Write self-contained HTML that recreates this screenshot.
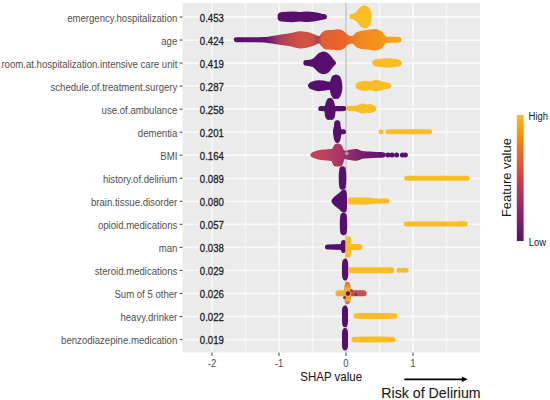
<!DOCTYPE html>
<html><head><meta charset="utf-8"><style>
html,body{margin:0;padding:0;background:#fff;}
svg{display:block;font-family:"Liberation Sans",sans-serif;}
text{stroke-width:0.25px;paint-order:stroke;}
</style></head><body>
<svg width="550" height="400" viewBox="0 0 550 400">
<defs>
<linearGradient id="gage" gradientUnits="userSpaceOnUse" x1="233" y1="0" x2="402" y2="0">
<stop offset="0.000" stop-color="#570f6d"/><stop offset="0.195" stop-color="#5e1470"/><stop offset="0.231" stop-color="#7e2668"/><stop offset="0.278" stop-color="#a83e5a"/><stop offset="0.349" stop-color="#c44c48"/><stop offset="0.426" stop-color="#d05440"/><stop offset="0.473" stop-color="#c85244"/><stop offset="0.503" stop-color="#a83e58"/><stop offset="0.527" stop-color="#e0602e"/><stop offset="0.663" stop-color="#e9652a"/><stop offset="0.704" stop-color="#ef7a22"/><stop offset="0.763" stop-color="#f38a1e"/><stop offset="0.870" stop-color="#f6921c"/><stop offset="0.917" stop-color="#f9a219"/><stop offset="1.000" stop-color="#faa818"/>
</linearGradient>
<linearGradient id="gbmi" gradientUnits="userSpaceOnUse" x1="310" y1="0" x2="405" y2="0">
<stop offset="0.000" stop-color="#c24258"/><stop offset="0.158" stop-color="#c0405a"/><stop offset="0.263" stop-color="#b03862"/><stop offset="0.368" stop-color="#a02e66"/><stop offset="0.474" stop-color="#862570"/><stop offset="0.611" stop-color="#6e1a72"/><stop offset="0.789" stop-color="#5e1470"/><stop offset="1.000" stop-color="#570f6d"/>
</linearGradient>
<linearGradient id="gsum" gradientUnits="userSpaceOnUse" x1="335" y1="0" x2="367" y2="0">
<stop offset="0" stop-color="#f8b828"/><stop offset="0.3" stop-color="#f2a82c"/><stop offset="0.5" stop-color="#c85048"/><stop offset="0.7" stop-color="#c8504a"/><stop offset="1" stop-color="#d6504a"/>
</linearGradient>
<linearGradient id="gsumv" gradientUnits="userSpaceOnUse" x1="0" y1="281" x2="0" y2="305">
<stop offset="0" stop-color="#d05040"/><stop offset="0.18" stop-color="#e8902e"/><stop offset="0.35" stop-color="#f2ae2c"/><stop offset="0.8" stop-color="#f0aa2e"/><stop offset="1" stop-color="#a04a50"/>
</linearGradient>
<linearGradient id="gcb" x1="0" y1="1" x2="0" y2="0">
<stop offset="0" stop-color="#570f6d"/><stop offset="0.1667" stop-color="#7e1e6c"/><stop offset="0.3333" stop-color="#a72d5f"/><stop offset="0.5" stop-color="#cc4148"/><stop offset="0.6667" stop-color="#e9622a"/><stop offset="0.8333" stop-color="#f98e08"/><stop offset="1" stop-color="#fabd23"/>
</linearGradient>
</defs>
<rect x="0" y="0" width="550" height="400" fill="#fff"/>
<rect x="182.5" y="3" width="297.5" height="349.5" fill="#ebebeb"/>
<line x1="245.50" x2="245.50" y1="3" y2="352.5" stroke="#f6f6f6" stroke-width="1.5"/>
<line x1="312.50" x2="312.50" y1="3" y2="352.5" stroke="#f6f6f6" stroke-width="1.5"/>
<line x1="379.50" x2="379.50" y1="3" y2="352.5" stroke="#f6f6f6" stroke-width="1.5"/>
<line x1="446.50" x2="446.50" y1="3" y2="352.5" stroke="#f6f6f6" stroke-width="1.5"/>
<line x1="212.00" x2="212.00" y1="3" y2="352.5" stroke="#f8f8f8" stroke-width="1.8"/>
<line x1="279.00" x2="279.00" y1="3" y2="352.5" stroke="#f8f8f8" stroke-width="1.8"/>
<line x1="346.00" x2="346.00" y1="3" y2="352.5" stroke="#f8f8f8" stroke-width="1.8"/>
<line x1="413.00" x2="413.00" y1="3" y2="352.5" stroke="#f8f8f8" stroke-width="1.8"/>
<line x1="182.5" x2="480" y1="17.00" y2="17.00" stroke="#f8f8f8" stroke-width="1.8"/>
<line x1="182.5" x2="480" y1="40.04" y2="40.04" stroke="#f8f8f8" stroke-width="1.8"/>
<line x1="182.5" x2="480" y1="63.08" y2="63.08" stroke="#f8f8f8" stroke-width="1.8"/>
<line x1="182.5" x2="480" y1="86.12" y2="86.12" stroke="#f8f8f8" stroke-width="1.8"/>
<line x1="182.5" x2="480" y1="109.16" y2="109.16" stroke="#f8f8f8" stroke-width="1.8"/>
<line x1="182.5" x2="480" y1="132.20" y2="132.20" stroke="#f8f8f8" stroke-width="1.8"/>
<line x1="182.5" x2="480" y1="155.24" y2="155.24" stroke="#f8f8f8" stroke-width="1.8"/>
<line x1="182.5" x2="480" y1="178.28" y2="178.28" stroke="#f8f8f8" stroke-width="1.8"/>
<line x1="182.5" x2="480" y1="201.32" y2="201.32" stroke="#f8f8f8" stroke-width="1.8"/>
<line x1="182.5" x2="480" y1="224.36" y2="224.36" stroke="#f8f8f8" stroke-width="1.8"/>
<line x1="182.5" x2="480" y1="247.40" y2="247.40" stroke="#f8f8f8" stroke-width="1.8"/>
<line x1="182.5" x2="480" y1="270.44" y2="270.44" stroke="#f8f8f8" stroke-width="1.8"/>
<line x1="182.5" x2="480" y1="293.48" y2="293.48" stroke="#f8f8f8" stroke-width="1.8"/>
<line x1="182.5" x2="480" y1="316.52" y2="316.52" stroke="#f8f8f8" stroke-width="1.8"/>
<line x1="182.5" x2="480" y1="339.56" y2="339.56" stroke="#f8f8f8" stroke-width="1.8"/>
<line x1="346.00" x2="346.00" y1="3" y2="352.5" stroke="#c4c4c4" stroke-width="1.5"/>
<path d="M280.10,15.30 C280.42,15.17 279.90,14.73 282.00,14.50 C284.10,14.27 289.70,13.90 292.70,13.90 C295.70,13.90 297.62,14.47 300.00,14.50 C302.38,14.53 304.33,14.00 307.00,14.10 C309.67,14.20 313.67,14.77 316.00,15.10 C318.33,15.43 319.58,15.83 321.00,16.10 C322.42,16.37 323.92,16.60 324.50,16.70 L324.50,16.90 C323.92,17.00 322.42,17.23 321.00,17.50 C319.58,17.77 318.33,18.17 316.00,18.50 C313.67,18.83 309.67,19.40 307.00,19.50 C304.33,19.60 302.38,19.07 300.00,19.10 C297.62,19.13 295.70,19.70 292.70,19.70 C289.70,19.70 284.10,19.33 282.00,19.10 C279.90,18.87 280.42,18.43 280.10,18.30Z" fill="#570f6d" stroke="#570f6d" stroke-width="5" stroke-linejoin="round"/>
<path d="M353.00,14.20 C353.58,12.97 355.42,12.63 356.50,11.60 C357.58,10.57 358.33,9.00 359.50,8.00 C360.67,7.00 362.17,5.87 363.50,5.60 C364.83,5.33 366.37,5.70 367.50,6.40 C368.63,7.10 369.62,8.37 370.30,9.80 C370.98,11.23 371.43,13.13 371.60,15.00 C371.77,16.87 371.70,19.17 371.30,21.00 C370.90,22.83 370.25,24.73 369.20,26.00 C368.15,27.27 366.45,28.50 365.00,28.60 C363.55,28.70 361.83,27.70 360.50,26.60 C359.17,25.50 358.25,23.27 357.00,22.00 C355.75,20.73 353.67,20.30 353.00,19.00 C352.33,17.70 352.42,15.43 353.00,14.20Z" fill="#fabd23"/>
<circle cx="352.20" cy="16.60" r="2.6" fill="#fabd23"/>
<path d="M236.20,39.80 C238.50,39.80 245.37,39.83 250.00,39.80 C254.63,39.77 260.67,39.75 264.00,39.60 C267.33,39.45 267.33,39.28 270.00,38.90 C272.67,38.52 276.67,37.83 280.00,37.30 C283.33,36.77 286.67,36.30 290.00,35.70 C293.33,35.10 297.33,33.93 300.00,33.70 C302.67,33.47 304.00,33.92 306.00,34.30 C308.00,34.68 310.00,35.30 312.00,36.00 C314.00,36.70 316.50,38.20 318.00,38.50 C319.50,38.80 320.08,38.42 321.00,37.80 C321.92,37.18 322.67,35.63 323.50,34.80 C324.33,33.97 324.92,33.18 326.00,32.80 C327.08,32.42 328.67,32.58 330.00,32.50 C331.33,32.42 332.67,32.42 334.00,32.30 C335.33,32.18 336.67,31.72 338.00,31.80 C339.33,31.88 340.83,32.13 342.00,32.80 C343.17,33.47 344.00,34.97 345.00,35.80 C346.00,36.63 346.83,37.35 348.00,37.80 C349.17,38.25 350.83,38.58 352.00,38.50 C353.17,38.42 354.00,38.00 355.00,37.30 C356.00,36.60 356.83,35.00 358.00,34.30 C359.17,33.60 360.33,33.40 362.00,33.10 C363.67,32.80 365.83,32.77 368.00,32.50 C370.17,32.23 373.00,31.37 375.00,31.50 C377.00,31.63 378.67,32.42 380.00,33.30 C381.33,34.18 382.00,35.83 383.00,36.80 C384.00,37.77 384.00,38.68 386.00,39.10 C388.00,39.52 392.83,39.22 395.00,39.30 C397.17,39.38 398.33,39.55 399.00,39.60 L399.00,40.00 C398.33,40.05 397.17,40.22 395.00,40.30 C392.83,40.38 388.00,40.08 386.00,40.50 C384.00,40.92 384.00,41.83 383.00,42.80 C382.00,43.77 381.33,45.42 380.00,46.30 C378.67,47.18 377.00,47.97 375.00,48.10 C373.00,48.23 370.17,47.37 368.00,47.10 C365.83,46.83 363.67,46.80 362.00,46.50 C360.33,46.20 359.17,46.00 358.00,45.30 C356.83,44.60 356.00,43.00 355.00,42.30 C354.00,41.60 353.17,41.18 352.00,41.10 C350.83,41.02 349.17,41.35 348.00,41.80 C346.83,42.25 346.00,42.97 345.00,43.80 C344.00,44.63 343.17,46.13 342.00,46.80 C340.83,47.47 339.33,47.72 338.00,47.80 C336.67,47.88 335.33,47.42 334.00,47.30 C332.67,47.18 331.33,47.18 330.00,47.10 C328.67,47.02 327.08,47.18 326.00,46.80 C324.92,46.42 324.33,45.63 323.50,44.80 C322.67,43.97 321.92,42.42 321.00,41.80 C320.08,41.18 319.50,40.80 318.00,41.10 C316.50,41.40 314.00,42.90 312.00,43.60 C310.00,44.30 308.00,44.92 306.00,45.30 C304.00,45.68 302.67,46.13 300.00,45.90 C297.33,45.67 293.33,44.50 290.00,43.90 C286.67,43.30 283.33,42.83 280.00,42.30 C276.67,41.77 272.67,41.08 270.00,40.70 C267.33,40.32 267.33,40.15 264.00,40.00 C260.67,39.85 254.63,39.83 250.00,39.80 C245.37,39.77 238.50,39.80 236.20,39.80Z" fill="url(#gage)" stroke="url(#gage)" stroke-width="5" stroke-linejoin="round"/>
<path d="M305.80,62.60 C306.50,62.52 308.63,62.38 310.00,62.10 C311.37,61.82 312.83,61.52 314.00,60.90 C315.17,60.28 316.00,59.32 317.00,58.40 C318.00,57.48 318.92,56.12 320.00,55.40 C321.08,54.68 322.33,54.10 323.50,54.10 C324.67,54.10 325.92,54.60 327.00,55.40 C328.08,56.20 329.17,57.90 330.00,58.90 C330.83,59.90 331.42,60.73 332.00,61.40 C332.58,62.07 333.25,62.65 333.50,62.90 L333.50,62.90 C333.25,63.15 332.58,63.73 332.00,64.40 C331.42,65.07 330.83,65.90 330.00,66.90 C329.17,67.90 328.08,69.60 327.00,70.40 C325.92,71.20 324.67,71.70 323.50,71.70 C322.33,71.70 321.08,71.12 320.00,70.40 C318.92,69.68 318.00,68.32 317.00,67.40 C316.00,66.48 315.17,65.52 314.00,64.90 C312.83,64.28 311.37,63.98 310.00,63.70 C308.63,63.42 306.50,63.28 305.80,63.20Z" fill="#570f6d" stroke="#570f6d" stroke-width="5" stroke-linejoin="round"/>
<path d="M374.50,62.80 C374.75,62.63 374.75,62.08 376.00,61.80 C377.25,61.52 379.83,61.28 382.00,61.10 C384.17,60.92 386.83,60.68 389.00,60.70 C391.17,60.72 393.33,60.95 395.00,61.20 C396.67,61.45 398.32,61.92 399.00,62.20 C399.68,62.48 399.08,62.78 399.10,62.90 L399.10,62.90 C399.08,63.02 399.68,63.32 399.00,63.60 C398.32,63.88 396.67,64.35 395.00,64.60 C393.33,64.85 391.17,65.08 389.00,65.10 C386.83,65.12 384.17,64.88 382.00,64.70 C379.83,64.52 377.25,64.28 376.00,64.00 C374.75,63.72 374.75,63.17 374.50,63.00Z" fill="#fabd23" stroke="#fabd23" stroke-width="5" stroke-linejoin="round"/>
<path d="M310.40,85.70 C310.67,85.48 310.73,84.90 312.00,84.40 C313.27,83.90 316.00,82.90 318.00,82.70 C320.00,82.50 322.33,82.98 324.00,83.20 C325.67,83.42 326.42,83.83 328.00,84.00 C329.58,84.17 332.58,84.17 333.50,84.20 L333.50,87.20 C332.58,87.23 329.58,87.23 328.00,87.40 C326.42,87.57 325.67,87.98 324.00,88.20 C322.33,88.42 320.00,88.90 318.00,88.70 C316.00,88.50 313.27,87.50 312.00,87.00 C310.73,86.50 310.67,85.92 310.40,85.70Z" fill="#570f6d" stroke="#570f6d" stroke-width="5" stroke-linejoin="round"/>
<path d="M336.00,77.10 C335.67,77.25 334.62,76.85 334.00,78.00 C333.38,79.15 332.55,81.83 332.30,84.00 C332.05,86.17 332.13,89.00 332.50,91.00 C332.87,93.00 333.92,95.17 334.50,96.00 C335.08,96.83 335.75,96.00 336.00,96.00 L336.00,96.00 C336.25,96.00 336.92,96.83 337.50,96.00 C338.08,95.17 339.13,93.00 339.50,91.00 C339.87,89.00 339.95,86.17 339.70,84.00 C339.45,81.83 338.62,79.15 338.00,78.00 C337.38,76.85 336.33,77.25 336.00,77.10Z" fill="#570f6d" stroke="#570f6d" stroke-width="5" stroke-linejoin="round"/>
<path d="M358.00,85.60 C358.17,85.40 357.77,84.80 359.00,84.40 C360.23,84.00 363.57,83.27 365.40,83.20 C367.23,83.13 368.18,84.12 370.00,84.00 C371.82,83.88 374.13,82.47 376.30,82.50 C378.47,82.53 381.05,83.75 383.00,84.20 C384.95,84.65 387.00,84.97 388.00,85.20 C389.00,85.43 388.83,85.53 389.00,85.60 L389.00,85.80 C388.83,85.87 389.00,85.97 388.00,86.20 C387.00,86.43 384.95,86.75 383.00,87.20 C381.05,87.65 378.47,88.87 376.30,88.90 C374.13,88.93 371.82,87.52 370.00,87.40 C368.18,87.28 367.23,88.27 365.40,88.20 C363.57,88.13 360.23,87.40 359.00,87.00 C357.77,86.60 358.17,86.00 358.00,85.80Z" fill="#fabd23" stroke="#fabd23" stroke-width="5" stroke-linejoin="round"/>
<path d="M320.70,108.60 C321.25,108.57 321.45,108.43 324.00,108.40 C326.55,108.37 332.68,108.37 336.00,108.40 C339.32,108.43 342.58,108.57 343.90,108.60 L343.90,108.60 C342.58,108.63 339.32,108.77 336.00,108.80 C332.68,108.83 326.55,108.83 324.00,108.80 C321.45,108.77 321.25,108.63 320.70,108.60Z" fill="#570f6d" stroke="#570f6d" stroke-width="5" stroke-linejoin="round"/>
<path d="M330.00,100.20 C329.83,100.33 329.42,100.03 329.00,101.00 C328.58,101.97 327.83,104.17 327.50,106.00 C327.17,107.83 326.92,110.17 327.00,112.00 C327.08,113.83 327.50,116.17 328.00,117.00 C328.50,117.83 329.67,117.00 330.00,117.00 L330.00,117.00 C330.33,117.00 331.50,117.83 332.00,117.00 C332.50,116.17 332.92,113.83 333.00,112.00 C333.08,110.17 332.83,107.83 332.50,106.00 C332.17,104.17 331.42,101.97 331.00,101.00 C330.58,100.03 330.17,100.33 330.00,100.20Z" fill="#570f6d" stroke="#570f6d" stroke-width="5" stroke-linejoin="round"/>
<path d="M348.50,108.60 C349.25,108.60 351.42,108.77 353.00,108.60 C354.58,108.43 356.38,108.02 358.00,107.60 C359.62,107.18 361.37,106.15 362.70,106.10 C364.03,106.05 364.78,107.22 366.00,107.30 C367.22,107.38 368.68,106.43 370.00,106.60 C371.32,106.77 373.25,108.02 373.90,108.30 L373.90,108.90 C373.25,109.18 371.32,110.43 370.00,110.60 C368.68,110.77 367.22,109.82 366.00,109.90 C364.78,109.98 364.03,111.15 362.70,111.10 C361.37,111.05 359.62,110.02 358.00,109.60 C356.38,109.18 354.58,108.77 353.00,108.60 C351.42,108.43 349.25,108.60 348.50,108.60Z" fill="#fabd23" stroke="#fabd23" stroke-width="5" stroke-linejoin="round"/>
<path d="M337.30,123.00 C337.22,123.00 336.95,122.33 336.80,123.00 C336.65,123.67 336.62,125.67 336.40,127.00 C336.18,128.33 335.60,129.67 335.50,131.00 C335.40,132.33 335.62,133.67 335.80,135.00 C335.98,136.33 336.35,138.08 336.60,139.00 C336.85,139.92 337.18,140.25 337.30,140.50 L337.30,140.50 C337.42,140.25 337.75,139.92 338.00,139.00 C338.25,138.08 338.62,136.33 338.80,135.00 C338.98,133.67 339.20,132.33 339.10,131.00 C339.00,129.67 338.42,128.33 338.20,127.00 C337.98,125.67 337.95,123.67 337.80,123.00 C337.65,122.33 337.38,123.00 337.30,123.00Z" fill="#570f6d" stroke="#570f6d" stroke-width="5" stroke-linejoin="round"/>
<path d="M339.50,131.80 C340.17,131.80 342.83,131.80 343.50,131.80 L343.50,131.80 C342.83,131.80 340.17,131.80 339.50,131.80Z" fill="#570f6d" stroke="#570f6d" stroke-width="5" stroke-linejoin="round"/>
<circle cx="381.10" cy="131.80" r="2.5" fill="#fabd23"/>
<path d="M388.00,131.80 C394.92,131.80 422.58,131.80 429.50,131.80 L429.50,131.80 C422.58,131.80 394.92,131.80 388.00,131.80Z" fill="#fabd23" stroke="#fabd23" stroke-width="5" stroke-linejoin="round"/>
<path d="M313.00,154.90 C313.33,154.73 313.83,154.32 315.00,153.90 C316.17,153.48 318.17,152.73 320.00,152.40 C321.83,152.07 324.17,152.07 326.00,151.90 C327.83,151.73 329.33,151.48 331.00,151.40 C332.67,151.32 334.17,151.32 336.00,151.40 C337.83,151.48 340.50,151.57 342.00,151.90 C343.50,152.23 343.83,153.32 345.00,153.40 C346.17,153.48 347.17,152.70 349.00,152.40 C350.83,152.10 353.83,151.43 356.00,151.60 C358.17,151.77 359.67,152.98 362.00,153.40 C364.33,153.82 367.00,153.90 370.00,154.10 C373.00,154.30 377.75,154.47 380.00,154.60 C382.25,154.73 382.92,154.85 383.50,154.90 L383.50,154.90 C382.92,154.95 382.25,155.07 380.00,155.20 C377.75,155.33 373.00,155.50 370.00,155.70 C367.00,155.90 364.33,155.98 362.00,156.40 C359.67,156.82 358.17,158.03 356.00,158.20 C353.83,158.37 350.83,157.70 349.00,157.40 C347.17,157.10 346.17,156.32 345.00,156.40 C343.83,156.48 343.50,157.57 342.00,157.90 C340.50,158.23 337.83,158.32 336.00,158.40 C334.17,158.48 332.67,158.48 331.00,158.40 C329.33,158.32 327.83,158.07 326.00,157.90 C324.17,157.73 321.83,157.73 320.00,157.40 C318.17,157.07 316.17,156.32 315.00,155.90 C313.83,155.48 313.33,155.07 313.00,154.90Z" fill="url(#gbmi)" stroke="url(#gbmi)" stroke-width="5" stroke-linejoin="round"/>
<path d="M337.80,146.00 C337.55,146.08 336.88,145.67 336.30,146.50 C335.72,147.33 334.72,149.08 334.30,151.00 C333.88,152.92 333.63,155.92 333.80,158.00 C333.97,160.08 334.63,162.53 335.30,163.50 C335.97,164.47 337.38,163.75 337.80,163.80 L337.80,163.80 C338.22,163.75 339.63,164.47 340.30,163.50 C340.97,162.53 341.63,160.08 341.80,158.00 C341.97,155.92 341.72,152.92 341.30,151.00 C340.88,149.08 339.88,147.33 339.30,146.50 C338.72,145.67 338.05,146.08 337.80,146.00Z" fill="url(#gbmi)" stroke="url(#gbmi)" stroke-width="5" stroke-linejoin="round"/>
<circle cx="346.80" cy="153.30" r="1.9" fill="#9a9a9a"/>
<circle cx="388.00" cy="154.90" r="2.5" fill="#570f6d"/>
<circle cx="392.00" cy="154.90" r="2.5" fill="#570f6d"/>
<circle cx="396.60" cy="154.90" r="2.5" fill="#570f6d"/>
<circle cx="402.40" cy="154.90" r="2.5" fill="#570f6d"/>
<circle cx="405.40" cy="154.90" r="2.5" fill="#570f6d"/>
<path d="M342.50,169.50 C342.38,169.50 342.02,168.08 341.80,169.50 C341.58,170.92 341.20,175.17 341.20,178.00 C341.20,180.83 341.58,185.08 341.80,186.50 C342.02,187.92 342.38,186.50 342.50,186.50 L342.50,186.50 C342.62,186.50 342.98,187.92 343.20,186.50 C343.42,185.08 343.80,180.83 343.80,178.00 C343.80,175.17 343.42,170.92 343.20,169.50 C342.98,168.08 342.62,169.50 342.50,169.50Z" fill="#570f6d" stroke="#570f6d" stroke-width="5" stroke-linejoin="round"/>
<path d="M406.60,178.20 C416.72,178.20 457.18,178.20 467.30,178.20 L467.30,178.20 C457.18,178.20 416.72,178.20 406.60,178.20Z" fill="#fabd23" stroke="#fabd23" stroke-width="5" stroke-linejoin="round"/>
<path d="M333.90,201.10 C334.25,200.68 334.82,199.68 336.00,198.60 C337.18,197.52 339.67,195.68 341.00,194.60 C342.33,193.52 343.42,191.77 344.00,192.10 C344.58,192.43 344.42,195.85 344.50,196.60 L344.50,205.60 C344.42,206.35 344.58,209.77 344.00,210.10 C343.42,210.43 342.33,208.68 341.00,207.60 C339.67,206.52 337.18,204.68 336.00,203.60 C334.82,202.52 334.25,201.52 333.90,201.10Z" fill="#570f6d" stroke="#570f6d" stroke-width="5" stroke-linejoin="round"/>
<path d="M350.10,200.10 C353.08,200.10 363.85,199.97 368.00,200.10 C372.15,200.23 371.82,200.73 375.00,200.90 C378.18,201.07 385.08,201.07 387.10,201.10 L387.10,201.10 C385.08,201.13 378.18,201.13 375.00,201.30 C371.82,201.47 372.15,201.97 368.00,202.10 C363.85,202.23 353.08,202.10 350.10,202.10Z" fill="#fabd23" stroke="#fabd23" stroke-width="5" stroke-linejoin="round"/>
<path d="M343.50,215.50 C343.37,215.58 342.90,214.58 342.70,216.00 C342.50,217.42 342.30,221.33 342.30,224.00 C342.30,226.67 342.50,230.58 342.70,232.00 C342.90,233.42 343.37,232.42 343.50,232.50 L343.50,232.50 C343.63,232.42 344.10,233.42 344.30,232.00 C344.50,230.58 344.70,226.67 344.70,224.00 C344.70,221.33 344.50,217.42 344.30,216.00 C344.10,214.58 343.63,215.58 343.50,215.50Z" fill="#570f6d" stroke="#570f6d" stroke-width="5" stroke-linejoin="round"/>
<path d="M406.10,223.90 C414.25,223.90 446.02,223.95 455.00,223.90 C463.98,223.85 458.30,223.60 460.00,223.60 C461.70,223.60 464.33,223.85 465.20,223.90 L465.20,223.90 C464.33,223.95 461.70,224.20 460.00,224.20 C458.30,224.20 463.98,223.95 455.00,223.90 C446.02,223.85 414.25,223.90 406.10,223.90Z" fill="#fabd23" stroke="#fabd23" stroke-width="5" stroke-linejoin="round"/>
<path d="M327.40,246.90 C329.92,246.82 339.98,246.48 342.50,246.40 L342.50,247.40 C339.98,247.32 329.92,246.98 327.40,246.90Z" fill="#570f6d" stroke="#570f6d" stroke-width="5" stroke-linejoin="round"/>
<path d="M343.50,242.50 C343.45,243.25 343.20,245.67 343.20,247.00 C343.20,248.33 343.45,249.92 343.50,250.50 L343.50,250.50 C343.55,249.92 343.80,248.33 343.80,247.00 C343.80,245.67 343.55,243.25 343.50,242.50Z" fill="#570f6d" stroke="#570f6d" stroke-width="5" stroke-linejoin="round"/>
<path d="M348.20,238.40 C348.15,238.83 347.98,239.57 347.90,241.00 C347.82,242.43 347.70,245.00 347.70,247.00 C347.70,249.00 347.82,251.62 347.90,253.00 C347.98,254.38 348.15,254.92 348.20,255.30 L348.20,255.30 C348.25,254.92 348.42,254.38 348.50,253.00 C348.58,251.62 348.70,249.00 348.70,247.00 C348.70,245.00 348.58,242.43 348.50,241.00 C348.42,239.57 348.25,238.83 348.20,238.40Z" fill="#fabd23" stroke="#fabd23" stroke-width="5" stroke-linejoin="round"/>
<path d="M350.50,246.40 C352.03,246.40 358.17,246.40 359.70,246.40 L359.70,247.40 C358.17,247.40 352.03,247.40 350.50,247.40Z" fill="#fabd23" stroke="#fabd23" stroke-width="5" stroke-linejoin="round"/>
<path d="M345.10,261.10 C345.02,261.42 344.72,261.52 344.60,263.00 C344.48,264.48 344.40,267.83 344.40,270.00 C344.40,272.17 344.48,274.67 344.60,276.00 C344.72,277.33 345.02,277.67 345.10,278.00 L345.10,278.00 C345.18,277.67 345.48,277.33 345.60,276.00 C345.72,274.67 345.80,272.17 345.80,270.00 C345.80,267.83 345.72,264.48 345.60,263.00 C345.48,261.52 345.18,261.42 345.10,261.10Z" fill="#570f6d" stroke="#570f6d" stroke-width="5" stroke-linejoin="round"/>
<path d="M350.50,269.70 C357.33,269.70 384.67,269.70 391.50,269.70 L391.50,270.70 C384.67,270.70 357.33,270.70 350.50,270.70Z" fill="#fabd23" stroke="#fabd23" stroke-width="5" stroke-linejoin="round"/>
<circle cx="399.00" cy="270.20" r="2.5" fill="#fabd23"/>
<circle cx="403.00" cy="270.20" r="2.5" fill="#fabd23"/>
<circle cx="406.00" cy="270.20" r="2.5" fill="#fabd23"/>
<path d="M338.00,292.70 C339.33,292.70 341.67,292.70 346.00,292.70 C350.33,292.70 361.00,292.70 364.00,292.70 L364.00,293.70 C361.00,293.70 350.33,293.70 346.00,293.70 C341.67,293.70 339.33,293.70 338.00,293.70Z" fill="url(#gsum)" stroke="url(#gsum)" stroke-width="5" stroke-linejoin="round"/>
<path d="M347.50,284.50 C347.35,285.08 346.78,286.58 346.60,288.00 C346.42,289.42 346.40,291.17 346.40,293.00 C346.40,294.83 346.42,297.55 346.60,299.00 C346.78,300.45 347.35,301.25 347.50,301.70 L347.50,301.70 C347.65,301.25 348.22,300.45 348.40,299.00 C348.58,297.55 348.60,294.83 348.60,293.00 C348.60,291.17 348.58,289.42 348.40,288.00 C348.22,286.58 347.65,285.08 347.50,284.50Z" fill="url(#gsumv)" stroke="url(#gsumv)" stroke-width="5" stroke-linejoin="round"/>
<circle cx="348.00" cy="293.50" r="2.2" fill="#57106e"/>
<circle cx="351.50" cy="290.50" r="1.5" fill="#a03a5a"/>
<circle cx="344.50" cy="297.50" r="1.5" fill="#7a2a60"/>
<circle cx="356.00" cy="294.50" r="1.6" fill="#8a3060"/>
<path d="M345.00,308.00 C344.92,308.33 344.58,308.67 344.50,310.00 C344.42,311.33 344.50,314.00 344.50,316.00 C344.50,318.00 344.42,320.53 344.50,322.00 C344.58,323.47 344.92,324.33 345.00,324.80 L345.00,324.80 C345.08,324.33 345.42,323.47 345.50,322.00 C345.58,320.53 345.50,318.00 345.50,316.00 C345.50,314.00 345.58,311.33 345.50,310.00 C345.42,308.67 345.08,308.33 345.00,308.00Z" fill="#570f6d" stroke="#570f6d" stroke-width="5" stroke-linejoin="round"/>
<path d="M356.00,315.90 C356.50,315.85 355.00,315.68 359.00,315.60 C363.00,315.52 373.98,315.38 380.00,315.40 C386.02,315.42 392.58,315.65 395.10,315.70 L395.10,316.10 C392.58,316.15 386.02,316.38 380.00,316.40 C373.98,316.42 363.00,316.28 359.00,316.20 C355.00,316.12 356.50,315.95 356.00,315.90Z" fill="#fabd23" stroke="#fabd23" stroke-width="5" stroke-linejoin="round"/>
<path d="M345.00,330.50 C344.92,330.92 344.58,331.42 344.50,333.00 C344.42,334.58 344.50,337.83 344.50,340.00 C344.50,342.17 344.42,344.68 344.50,346.00 C344.58,347.32 344.92,347.58 345.00,347.90 L345.00,347.90 C345.08,347.58 345.42,347.32 345.50,346.00 C345.58,344.68 345.50,342.17 345.50,340.00 C345.50,337.83 345.58,334.58 345.50,333.00 C345.42,331.42 345.08,330.92 345.00,330.50Z" fill="#570f6d" stroke="#570f6d" stroke-width="5" stroke-linejoin="round"/>
<path d="M353.80,339.20 C358.17,339.17 373.47,338.98 380.00,339.00 C386.53,339.02 390.83,339.25 393.00,339.30 L393.00,339.70 C390.83,339.75 386.53,339.98 380.00,340.00 C373.47,340.02 358.17,339.83 353.80,339.80Z" fill="#fabd23" stroke="#fabd23" stroke-width="5" stroke-linejoin="round"/>
<text transform="translate(177.3,21.50) scale(1,1.1)" text-anchor="end" fill="#505050" font-size="9.6">emergency.hospitalization</text>
<line x1="179.6" x2="182.5" y1="17.00" y2="17.00" stroke="#555" stroke-width="1.1"/>
<text transform="translate(199.8,21.50) scale(1,1.1)" fill="#1a1a1a" stroke="#1a1a1a" font-size="9.6">0.453</text>
<text transform="translate(177.3,44.54) scale(1,1.1)" text-anchor="end" fill="#505050" font-size="9.6">age</text>
<line x1="179.6" x2="182.5" y1="40.04" y2="40.04" stroke="#555" stroke-width="1.1"/>
<text transform="translate(199.8,44.54) scale(1,1.1)" fill="#1a1a1a" stroke="#1a1a1a" font-size="9.6">0.424</text>
<text transform="translate(177.3,67.58) scale(1,1.1)" text-anchor="end" fill="#505050" font-size="9.6">room.at.hospitalization.intensive care unit</text>
<line x1="179.6" x2="182.5" y1="63.08" y2="63.08" stroke="#555" stroke-width="1.1"/>
<text transform="translate(199.8,67.58) scale(1,1.1)" fill="#1a1a1a" stroke="#1a1a1a" font-size="9.6">0.419</text>
<text transform="translate(177.3,90.62) scale(1,1.1)" text-anchor="end" fill="#505050" font-size="9.6">schedule.of.treatment.surgery</text>
<line x1="179.6" x2="182.5" y1="86.12" y2="86.12" stroke="#555" stroke-width="1.1"/>
<text transform="translate(199.8,90.62) scale(1,1.1)" fill="#1a1a1a" stroke="#1a1a1a" font-size="9.6">0.287</text>
<text transform="translate(177.3,113.66) scale(1,1.1)" text-anchor="end" fill="#505050" font-size="9.6">use.of.ambulance</text>
<line x1="179.6" x2="182.5" y1="109.16" y2="109.16" stroke="#555" stroke-width="1.1"/>
<text transform="translate(199.8,113.66) scale(1,1.1)" fill="#1a1a1a" stroke="#1a1a1a" font-size="9.6">0.258</text>
<text transform="translate(177.3,136.70) scale(1,1.1)" text-anchor="end" fill="#505050" font-size="9.6">dementia</text>
<line x1="179.6" x2="182.5" y1="132.20" y2="132.20" stroke="#555" stroke-width="1.1"/>
<text transform="translate(199.8,136.70) scale(1,1.1)" fill="#1a1a1a" stroke="#1a1a1a" font-size="9.6">0.201</text>
<text transform="translate(177.3,159.74) scale(1,1.1)" text-anchor="end" fill="#505050" font-size="9.6">BMI</text>
<line x1="179.6" x2="182.5" y1="155.24" y2="155.24" stroke="#555" stroke-width="1.1"/>
<text transform="translate(199.8,159.74) scale(1,1.1)" fill="#1a1a1a" stroke="#1a1a1a" font-size="9.6">0.164</text>
<text transform="translate(177.3,182.78) scale(1,1.1)" text-anchor="end" fill="#505050" font-size="9.6">history.of.delirium</text>
<line x1="179.6" x2="182.5" y1="178.28" y2="178.28" stroke="#555" stroke-width="1.1"/>
<text transform="translate(199.8,182.78) scale(1,1.1)" fill="#1a1a1a" stroke="#1a1a1a" font-size="9.6">0.089</text>
<text transform="translate(177.3,205.82) scale(1,1.1)" text-anchor="end" fill="#505050" font-size="9.6">brain.tissue.disorder</text>
<line x1="179.6" x2="182.5" y1="201.32" y2="201.32" stroke="#555" stroke-width="1.1"/>
<text transform="translate(199.8,205.82) scale(1,1.1)" fill="#1a1a1a" stroke="#1a1a1a" font-size="9.6">0.080</text>
<text transform="translate(177.3,228.86) scale(1,1.1)" text-anchor="end" fill="#505050" font-size="9.6">opioid.medications</text>
<line x1="179.6" x2="182.5" y1="224.36" y2="224.36" stroke="#555" stroke-width="1.1"/>
<text transform="translate(199.8,228.86) scale(1,1.1)" fill="#1a1a1a" stroke="#1a1a1a" font-size="9.6">0.057</text>
<text transform="translate(177.3,251.90) scale(1,1.1)" text-anchor="end" fill="#505050" font-size="9.6">man</text>
<line x1="179.6" x2="182.5" y1="247.40" y2="247.40" stroke="#555" stroke-width="1.1"/>
<text transform="translate(199.8,251.90) scale(1,1.1)" fill="#1a1a1a" stroke="#1a1a1a" font-size="9.6">0.038</text>
<text transform="translate(177.3,274.94) scale(1,1.1)" text-anchor="end" fill="#505050" font-size="9.6">steroid.medications</text>
<line x1="179.6" x2="182.5" y1="270.44" y2="270.44" stroke="#555" stroke-width="1.1"/>
<text transform="translate(199.8,274.94) scale(1,1.1)" fill="#1a1a1a" stroke="#1a1a1a" font-size="9.6">0.029</text>
<text transform="translate(177.3,297.98) scale(1,1.1)" text-anchor="end" fill="#505050" font-size="9.6">Sum of 5 other</text>
<line x1="179.6" x2="182.5" y1="293.48" y2="293.48" stroke="#555" stroke-width="1.1"/>
<text transform="translate(199.8,297.98) scale(1,1.1)" fill="#1a1a1a" stroke="#1a1a1a" font-size="9.6">0.026</text>
<text transform="translate(177.3,321.02) scale(1,1.1)" text-anchor="end" fill="#505050" font-size="9.6">heavy.drinker</text>
<line x1="179.6" x2="182.5" y1="316.52" y2="316.52" stroke="#555" stroke-width="1.1"/>
<text transform="translate(199.8,321.02) scale(1,1.1)" fill="#1a1a1a" stroke="#1a1a1a" font-size="9.6">0.022</text>
<text transform="translate(177.3,344.06) scale(1,1.1)" text-anchor="end" fill="#505050" font-size="9.6">benzodiazepine.medication</text>
<line x1="179.6" x2="182.5" y1="339.56" y2="339.56" stroke="#555" stroke-width="1.1"/>
<text transform="translate(199.8,344.06) scale(1,1.1)" fill="#1a1a1a" stroke="#1a1a1a" font-size="9.6">0.019</text>
<line x1="212.00" x2="212.00" y1="352.5" y2="356" stroke="#555" stroke-width="1.1"/>
<text transform="translate(212.00,366.6) scale(1,1.12)" text-anchor="middle" fill="#4d4d4d" font-size="9.6">-2</text>
<line x1="279.00" x2="279.00" y1="352.5" y2="356" stroke="#555" stroke-width="1.1"/>
<text transform="translate(279.00,366.6) scale(1,1.12)" text-anchor="middle" fill="#4d4d4d" font-size="9.6">-1</text>
<line x1="346.00" x2="346.00" y1="352.5" y2="356" stroke="#555" stroke-width="1.1"/>
<text transform="translate(346.00,366.6) scale(1,1.12)" text-anchor="middle" fill="#4d4d4d" font-size="9.6">0</text>
<line x1="413.00" x2="413.00" y1="352.5" y2="356" stroke="#555" stroke-width="1.1"/>
<text transform="translate(413.00,366.6) scale(1,1.12)" text-anchor="middle" fill="#4d4d4d" font-size="9.6">1</text>
<text transform="translate(331.2,380.6) scale(1,1.08)" text-anchor="middle" fill="#1a1a1a" stroke="#1a1a1a" stroke-opacity="0.3" font-size="11.5">SHAP value</text>
<line x1="404.3" x2="463" y1="379.3" y2="379.3" stroke="#000" stroke-width="1.8"/>
<path d="M467.8,379.3 L461.8,376.5 L461.8,382.1Z" fill="#000"/>
<text x="381.3" y="397.8" fill="#1a1a1a" stroke="#1a1a1a" stroke-opacity="0.4" font-size="14.2">Risk of Delirium</text>
<rect x="516.8" y="115" width="6.8" height="126" fill="url(#gcb)"/>
<text transform="translate(528.6,119.5) scale(1,1.1)" fill="#1a1a1a" font-size="9.5">High</text>
<text transform="translate(528.7,245.6) scale(1,1.1)" fill="#1a1a1a" font-size="9.5">Low</text>
<text transform="translate(511.2,177.6) rotate(-90)" text-anchor="middle" fill="#1a1a1a" font-size="12.9">Feature value</text>
</svg>
</body></html>
